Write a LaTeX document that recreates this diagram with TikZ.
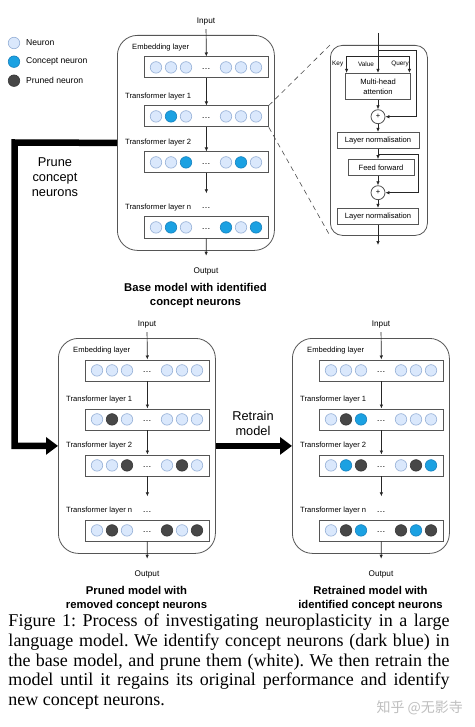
\documentclass[tikz,border=0pt]{standalone}
\usepackage{fontspec}
\setmainfont{Liberation Serif}
\setsansfont{Liberation Sans}
\newfontfamily\cjkfont{Noto Sans CJK SC}
\usetikzlibrary{arrows.meta}
\definecolor{nrnfill}{HTML}{DAE8FC}
\definecolor{nrnline}{HTML}{94AFD6}
\definecolor{cptfill}{HTML}{1BA1E2}
\definecolor{cptline}{HTML}{1480BE}
\definecolor{prnfill}{HTML}{474747}
\definecolor{prnline}{HTML}{333333}
\definecolor{boxline}{HTML}{555555}
\frenchspacing
\begin{document}
\begin{tikzpicture}[x=1pt,y=-1pt,
	every node/.style={font=\sffamily\fontsize{7.6}{10}\selectfont},
	nrn/.style={circle,draw=nrnline,fill=nrnfill,line width=0.6pt,minimum size=11.5pt,inner sep=0pt},
	cpt/.style={nrn,draw=cptline,fill=cptfill},
	prn/.style={nrn,draw=prnline,fill=prnfill},
	layerbox/.style={draw=boxline,line width=0.8pt,minimum width=124pt,minimum height=21pt,inner sep=0pt,anchor=north west},
	modelbox/.style={draw=boxline,line width=0.8pt,rounded corners=20pt,minimum width=157pt,minimum height=215pt,inner sep=0pt,anchor=north west},
	blockbox/.style={draw=boxline,line width=0.8pt,minimum height=16pt,inner sep=0pt},
	addnode/.style={circle,draw=boxline,line width=0.8pt,minimum size=14pt,inner sep=0pt},
	lbl/.style={anchor=west,inner sep=0pt},
	io/.style={font=\sffamily\fontsize{8.2}{10}\selectfont},
	kv/.style={font=\sffamily\fontsize{6.4}{8}\selectfont,inner sep=0pt},
	dotsrow/.style={anchor=base,inner sep=0pt,font=\sffamily\fontsize{9}{10}\selectfont},
	title/.style={font=\sffamily\bfseries\fontsize{11.3}{13.5}\selectfont,align=center},
	bigtxt/.style={font=\sffamily\fontsize{12.8}{15}\selectfont,align=center},
	arr/.style={draw=black!85,line width=0.7pt,-{Latex[length=4pt,width=3.5pt]}},
	bigarr/.style={line width=6.5pt,-{Triangle[length=12pt,width=17pt]}},
	zoomline/.style={draw=black!70,line width=0.6pt,dash pattern=on 5pt off 4pt}]
	\useasboundingbox (0,0) rectangle (474,727);
	\fill[white] (0,0) rectangle (474,727);
	% legend
	\node[nrn] (leg-n) at (14,43) {};
	\node[lbl,font=\sffamily\fontsize{8.6}{10}\selectfont] (leg-n-t) at (26,43) {Neuron};
	\node[cpt] (leg-c) at (14,61.7) {};
	\node[lbl,font=\sffamily\fontsize{8.6}{10}\selectfont] (leg-c-t) at (26,61.7) {Concept neuron};
	\node[prn] (leg-p) at (14,80.7) {};
	\node[lbl,font=\sffamily\fontsize{8.6}{10}\selectfont] (leg-p-t) at (26,80.7) {Pruned neuron};
	% the three models
	\foreach \m/\L/\T/\capa/\capb in {t/117/35/Base model with identified/concept neurons,p/58/338/Pruned model with/removed concept neurons,r/292/338/Retrained model with/identified concept neurons}{
		\node[modelbox] (\m) at (\L,\T) {};
		\foreach \r/\dy/\txt/\dx in {emb/21.5/Embedding layer/12,l1/70.5/Transformer layer 1/19,l2/116.5/Transformer layer 2/19,ln/181.5/Transformer layer n/19}{
			\node[layerbox] (\m-\r) at ({\L+27},{\T+\dy}) {};
			\node[lbl] (\m-\r-lbl) at ({\L+27-\dx},{\T+\dy-9}) {\txt};
			\node[dotsrow] (\m-\r-dots) at ({\L+89},{\T+\dy+13}) {\dots};
		}
		\node[io] (\m-in) at ({\L+89},{\T-13}) {Input};
		\node[io] (\m-out) at ({\L+89},{\T+236}) {Output};
		\node[title] (\m-title) at ({\L+78.5},{\T+260.8}) {\capa\\\capb};
		\node[dotsrow] (\m-gap) at ({\L+89},{\T+174}) {\dots};
		\draw[arr] (\m-in) -- (\m-emb);
		\draw[arr] (\m-emb) -- (\m-l1);
		\draw[arr] (\m-l1) -- (\m-l2);
		\draw[arr] (\m-l2.south) -- ++(0,20);
		\draw[arr,shorten >=8pt] (\m-ln) -- (\m-out);
	}
	% neurons, row by row
	\foreach \bx/\ua/\ub/\uc/\ud/\ue/\uf in {t-emb/nrn/nrn/nrn/nrn/nrn/nrn,t-l1/nrn/cpt/nrn/nrn/nrn/nrn,t-l2/nrn/nrn/cpt/nrn/cpt/nrn,t-ln/nrn/cpt/nrn/cpt/nrn/cpt,
		p-emb/nrn/nrn/nrn/nrn/nrn/nrn,p-l1/nrn/prn/nrn/nrn/nrn/nrn,p-l2/nrn/nrn/prn/nrn/prn/nrn,p-ln/nrn/prn/nrn/prn/nrn/prn,
		r-emb/nrn/nrn/nrn/nrn/nrn/nrn,r-l1/nrn/prn/cpt/nrn/nrn/nrn,r-l2/nrn/cpt/prn/nrn/prn/cpt,r-ln/nrn/prn/cpt/prn/cpt/prn}
		\foreach \s [count=\k] in {\ua,\ub,\uc,\ud,\ue,\uf}{
			\pgfmathsetmacro\cx{12+15*(\k-1)+25*(\k>3)}
			\node[\s] (\bx-\k) at ([xshift=\cx pt]\bx.west) {};
		}
	% transformer block
	\node[draw=boxline,line width=0.8pt,rounded corners=12pt,minimum width=97pt,minimum height=190pt,anchor=north west,inner sep=0pt] (blk) at (330,45) {};
	\node[blockbox,minimum width=65pt,minimum height=26pt,align=center] (mha) at (378,86.3) {Multi-head\\attention};
	\node[addnode] (add1) at (378,116.7) {+};
	\node[blockbox,minimum width=82pt] (ln1) at (378,140.3) {Layer normalisation};
	\node[blockbox,minimum width=66pt] (ff) at (381,167.5) {Feed forward};
	\node[addnode] (add2) at (378,192.7) {+};
	\node[blockbox,minimum width=81pt] (ln2) at (378,216.3) {Layer normalisation};
	\node[kv] (key) at (337.7,64) {Key};
	\node[kv] (val) at (366,64) {Value};
	\node[kv] (qry) at (400,64) {Query};
	\coordinate (blk-in) at (378,33);
	\coordinate (res1) at (378,50.7);
	\coordinate (kq) at (378,56);
	\coordinate (res2) at (378,154);
	\coordinate (blk-out) at (378,245);
	\draw[arr] (blk-in) -- (mha);
	\draw[arr] (kq) -| ([xshift=1.5pt]mha.north west);
	\draw[arr] (kq) -| ([xshift=-1.5pt]mha.north east);
	\draw[arr] (res1) -- ++(38.7,0) |- (add1);
	\draw[arr] (mha) -- (add1);
	\draw[arr] (add1) -- (ln1);
	\draw[arr] (ln1.south) -- (ln1.south |- ff.north);
	\draw[arr] (res2) -- ++(40.3,0) |- (add2);
	\draw[arr] (ff.south -| add2) -- (add2);
	\draw[arr] (add2) -- (ln2);
	\draw[arr] (ln2) -- (blk-out);
	\draw[zoomline] (t-l1.north east) -- (blk.north west);
	\draw[zoomline] (t-l1.south east) -- (blk.south west);
	% prune and retrain
	\coordinate (bend) at (14.5,142.5);
	\draw[bigarr] (t.west) -- (bend) |- (p.west);
	\draw[bigarr] (p.east) -- (r.west);
	\node[bigtxt] (prune) at (55,177.5) {Prune\\concept\\neurons};
	\node[bigtxt] (retrain) at (253,423) {Retrain\\model};
	% caption
	\node[anchor=north west,inner sep=0pt,text width=441pt,align=justify,font=\rmfamily\fontsize{18}{19.8}\selectfont] (cap) at (8.3,613.7) {Figure 1: Process of investigating neuroplasticity in a large\linebreak language model. We identify concept neurons (dark blue) in\linebreak the base model, and prune them (white). We then retrain the\linebreak model until it regains its original performance and identify\linebreak new concept neurons.};
	\node[anchor=west,text=black!25,font=\cjkfont\fontsize{14}{16}\selectfont] (wm) at (373,708) {知乎 @无影寺};
\end{tikzpicture}
\end{document}
